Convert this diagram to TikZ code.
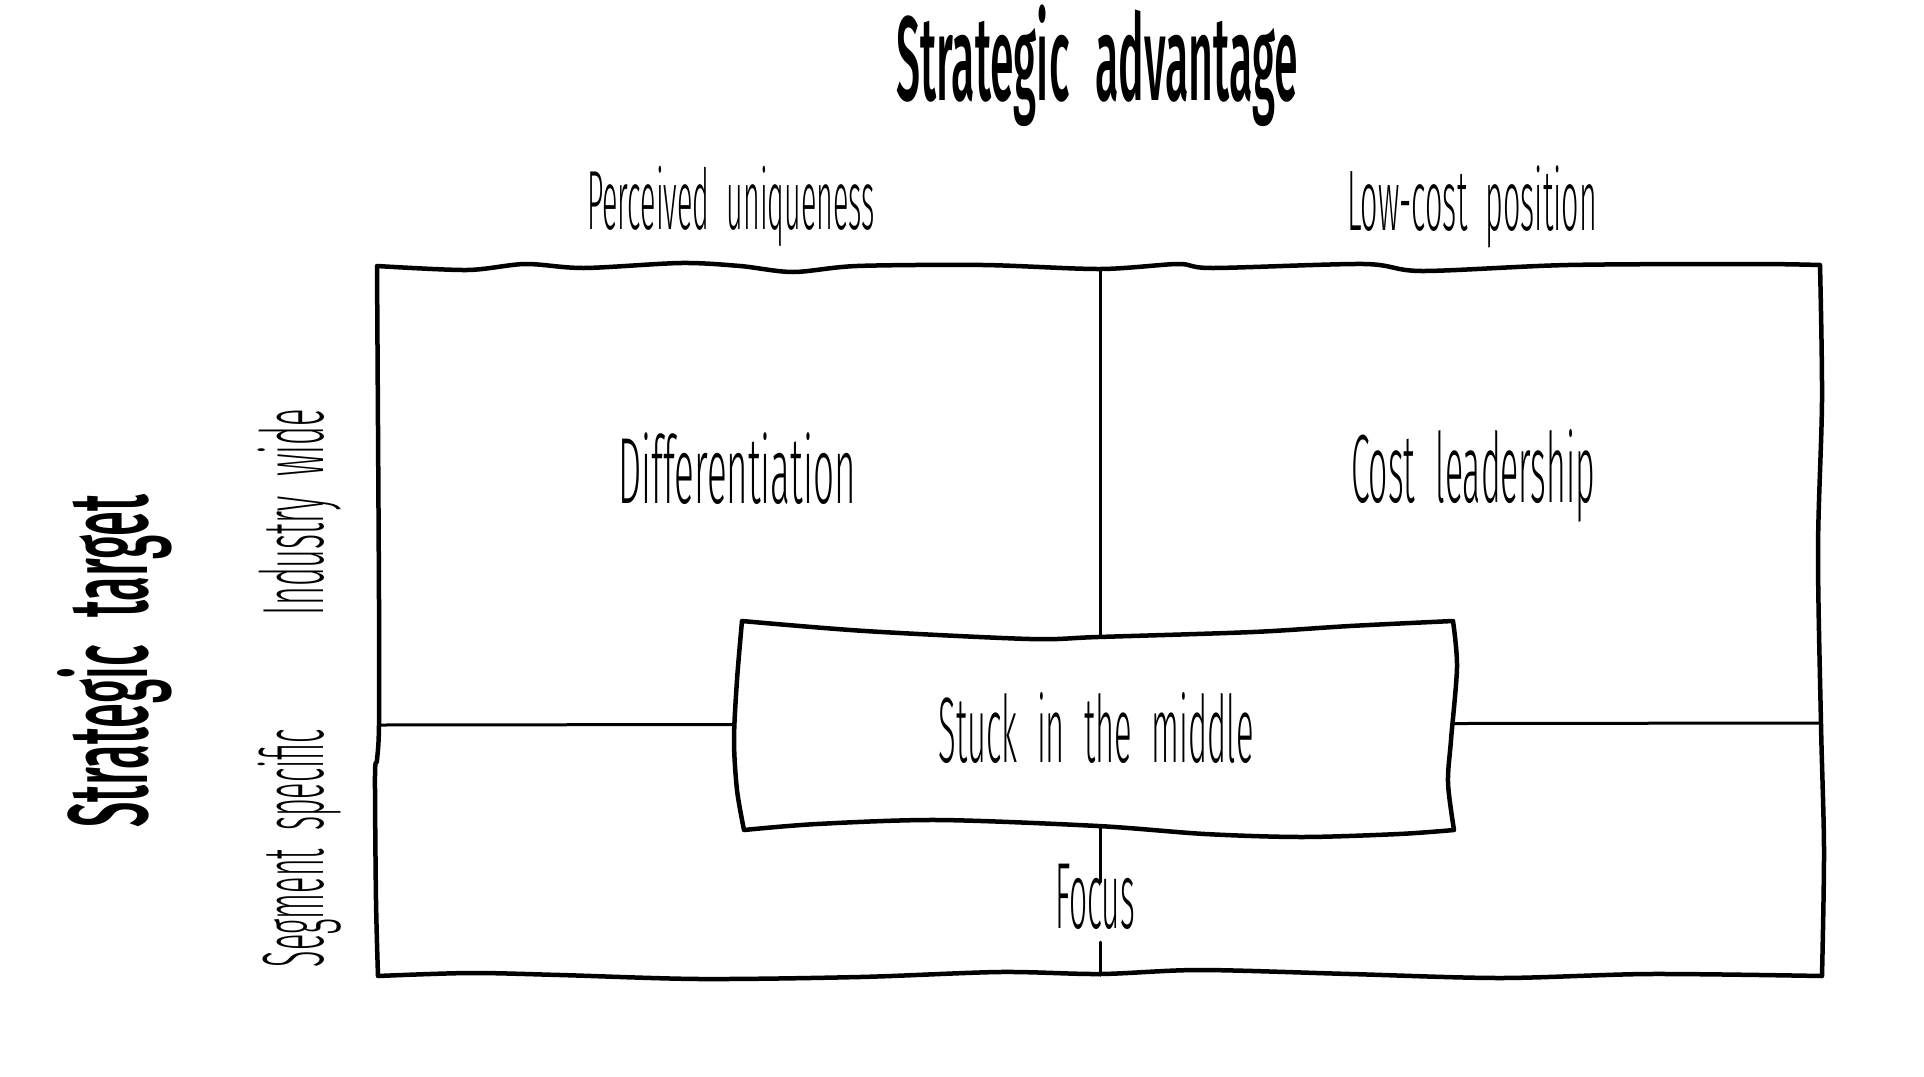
\documentclass[tikz,border=0pt]{standalone}
\usepackage{fontspec}
\setmainfont{Liberation Sans}
\newfontfamily\lightfont{Fira Sans Light}
\newfontfamily\headfont{Fira Sans Medium}
\newcommand{\fitw}[2]{\resizebox{#1}{\height}{\spaceskip=0.6em\relax #2}}
\tikzset{
  lbl/.style={inner sep=0pt, anchor=base},
  outerline/.style={line width=4.5bp, line join=round, line cap=round},
  innerline/.style={line width=3bp, line cap=round},
  stuckline/.style={line width=4.5bp, line join=round, fill=white},
}
\begin{document}
\begin{tikzpicture}[x=1bp, y=-1bp]
\useasboundingbox (0,0) rectangle (1924,1076);

% grid lines
\coordinate (hL) at (379,725);
\coordinate (hR) at (1821,723);
\coordinate (vT) at (1100,269);
\coordinate (vF1) at (1100,882);
\coordinate (vF2) at (1100,942);
\coordinate (vB) at (1100,975);
\draw[innerline] (hL) -- (hR);
\draw[innerline] (vT) -- (vF1);
\draw[innerline] (vF2) -- (vB);

% main box
\draw[outerline]
  plot[smooth] coordinates {(377,266) (467,270) (525,264) (584,268) (681,263) (740,266) (793,272) (857,266) (983,265) (1100,269) (1178,264) (1213,268) (1364,264) (1422,271) (1568,265) (1753,264) (1820,265)}
  -- plot[smooth] coordinates {(1820,265) (1822,400) (1818,550) (1821,725) (1824,850) (1822,976)}
  -- plot[smooth] coordinates {(1822,976) (1650,974) (1500,978) (1350,974) (1200,970) (1100,974) (1000,972) (860,977) (700,979) (560,975) (470,973) (378,976)}
  -- plot[smooth] coordinates {(378,976) (376,900) (375,775) (377,760) (379,725) (379,600) (377,266)}
  -- cycle;

% stuck in the middle box
\draw[stuckline]
  plot[smooth] coordinates {(742,621) (865,631) (1030,639) (1098,637) (1253,632) (1350,626) (1453,621)}
  -- plot[smooth] coordinates {(1453,621) (1457,667) (1451,740) (1448,783) (1454,830)}
  -- plot[smooth] coordinates {(1454,830) (1399,834) (1302,837) (1205,834) (1098,826) (938,820) (817,824) (744,830)}
  -- plot[smooth] coordinates {(744,830) (737,790) (734,740) (737,680) (742,621)}
  -- cycle;

% labels
\node[lbl, font=\headfont\fontsize{120bp}{130bp}\selectfont] (title) at (1097,100) {\fitw{402bp}{Strategic advantage}};
\node[lbl, font=\lightfont\fontsize{84bp}{90bp}\selectfont] (perc) at (731,229) {\fitw{288bp}{Perceived uniqueness}};
\node[lbl, font=\lightfont\fontsize{86bp}{90bp}\selectfont] (lowc) at (1472,230) {\fitw{250bp}{Low-cost position}};
\node[lbl, font=\lightfont\fontsize{94bp}{100bp}\selectfont] (diff) at (737,503) {\fitw{237bp}{Differentiation}};
\node[lbl, font=\lightfont\fontsize{97bp}{100bp}\selectfont] (cost) at (1473,502) {\fitw{244bp}{Cost leadership}};
\node[lbl, font=\lightfont\fontsize{93bp}{100bp}\selectfont] (stuck) at (1096,762) {\fitw{315bp}{Stuck in the middle}};
\node[lbl, font=\lightfont\fontsize{94bp}{100bp}\selectfont] (focus) at (1095,928) {\fitw{80bp}{Focus}};
\node[lbl, rotate=90, font=\lightfont\fontsize{87bp}{90bp}\selectfont] (indw) at (323,512) {\fitw{206bp}{Industry wide}};
\node[lbl, rotate=90, font=\lightfont\fontsize{87bp}{90bp}\selectfont] (segs) at (323,848) {\fitw{238bp}{Segment specific}};
\node[lbl, rotate=90, font=\headfont\fontsize{113bp}{120bp}\selectfont] (target) at (147,661) {\fitw{333bp}{Strategic target}};
\end{tikzpicture}
\end{document}
